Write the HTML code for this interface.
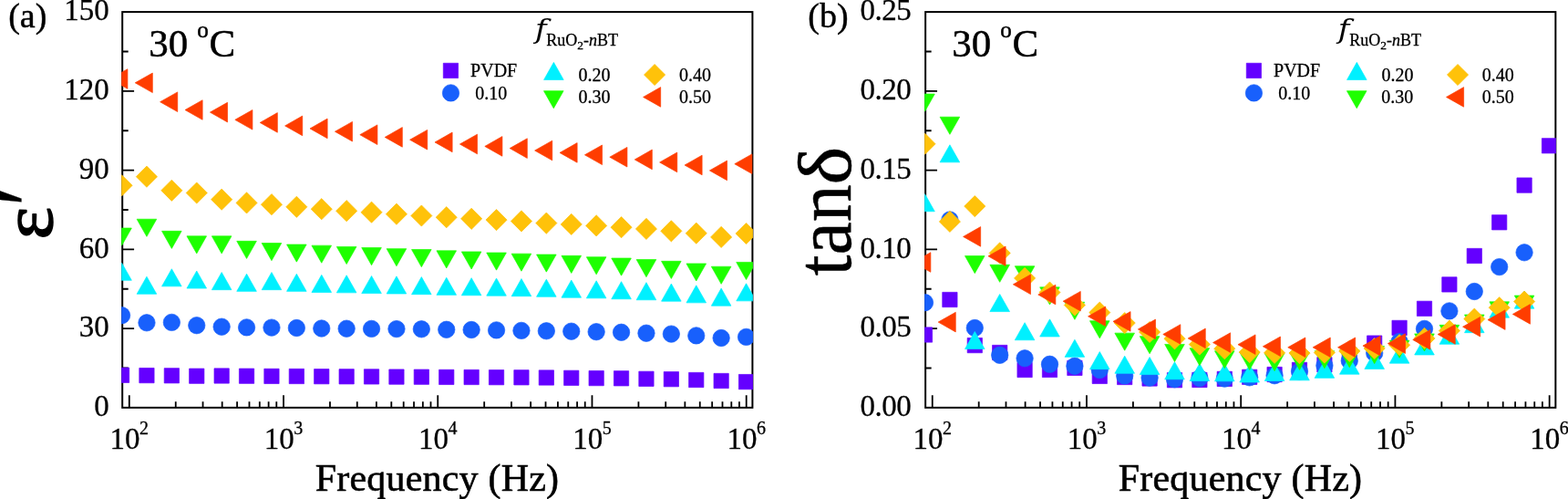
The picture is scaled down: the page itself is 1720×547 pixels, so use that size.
<!DOCTYPE html>
<html lang="en"><head><meta charset="utf-8"><title>Dielectric properties of RuO2-nBT/PVDF composites</title>
<style>html,body{margin:0;padding:0;background:#fff}body{width:1720px;height:547px;overflow:hidden}svg{display:block}text{font-family:'Liberation Serif', 'DejaVu Serif', serif;fill:#000;stroke:#000;stroke-width:.3px;stroke-linejoin:round}</style>
</head><body>
<svg width="1720" height="547" viewBox="0 0 1720 547">
<rect width="1720" height="547" fill="#fff"/>
<g id="panel-a">
<clipPath id="clipa"><rect x="133.2" y="12.1" width="692.7" height="435.75"/></clipPath>
<rect x="134.2" y="13.1" width="691.2" height="433.75" fill="none" stroke="#000" stroke-width="2"/>
<path d="M134.2 403.48h6.5M134.2 360.1h12.9M134.2 316.73h6.5M134.2 273.35h12.9M134.2 229.98h6.5M134.2 186.6h12.9M134.2 143.23h6.5M134.2 99.85h12.9M134.2 56.48h6.5M141.8 446.85v-13.5M192.74 446.85v-6.5M222.54 446.85v-6.5M243.68 446.85v-6.5M260.08 446.85v-6.5M273.48 446.85v-6.5M284.81 446.85v-6.5M294.63 446.85v-6.5M303.28 446.85v-6.5M311.02 446.85v-13.5M361.97 446.85v-6.5M391.77 446.85v-6.5M412.91 446.85v-6.5M429.31 446.85v-6.5M442.71 446.85v-6.5M454.04 446.85v-6.5M463.85 446.85v-6.5M472.51 446.85v-6.5M480.25 446.85v-13.5M531.19 446.85v-6.5M560.99 446.85v-6.5M582.13 446.85v-6.5M598.53 446.85v-6.5M611.93 446.85v-6.5M623.26 446.85v-6.5M633.08 446.85v-6.5M641.73 446.85v-6.5M649.47 446.85v-13.5M700.42 446.85v-6.5M730.22 446.85v-6.5M751.36 446.85v-6.5M767.76 446.85v-6.5M781.16 446.85v-6.5M792.49 446.85v-6.5M802.3 446.85v-6.5M810.96 446.85v-6.5M818.7 446.85v-13.5" fill="none" stroke="#000" stroke-width="1.8"/>
<g clip-path="url(#clipa)" stroke-width="0.7" stroke-linejoin="round">
<g fill="#6400ff" stroke="#6400ff"><rect x="125.4" y="403.15" width="16.3" height="16.3"/><rect x="152.8" y="403.45" width="16.3" height="16.3"/><rect x="180.2" y="403.65" width="16.3" height="16.3"/><rect x="207.6" y="404.05" width="16.3" height="16.3"/><rect x="235" y="403.85" width="16.3" height="16.3"/><rect x="262.4" y="404.05" width="16.3" height="16.3"/><rect x="289.8" y="404.25" width="16.3" height="16.3"/><rect x="317.2" y="404.35" width="16.3" height="16.3"/><rect x="344.6" y="404.55" width="16.3" height="16.3"/><rect x="372" y="404.65" width="16.3" height="16.3"/><rect x="399.4" y="404.75" width="16.3" height="16.3"/><rect x="426.8" y="404.95" width="16.3" height="16.3"/><rect x="454.2" y="405.05" width="16.3" height="16.3"/><rect x="481.6" y="405.25" width="16.3" height="16.3"/><rect x="509" y="405.35" width="16.3" height="16.3"/><rect x="536.4" y="405.55" width="16.3" height="16.3"/><rect x="563.8" y="405.65" width="16.3" height="16.3"/><rect x="591.2" y="405.85" width="16.3" height="16.3"/><rect x="618.6" y="406.15" width="16.3" height="16.3"/><rect x="646" y="406.45" width="16.3" height="16.3"/><rect x="673.4" y="406.65" width="16.3" height="16.3"/><rect x="700.8" y="407.15" width="16.3" height="16.3"/><rect x="728.2" y="407.55" width="16.3" height="16.3"/><rect x="755.6" y="408.35" width="16.3" height="16.3"/><rect x="783" y="409.35" width="16.3" height="16.3"/><rect x="810.4" y="410.45" width="16.3" height="16.3"/></g>
<g fill="#1860fc" stroke="#1860fc"><circle cx="133.55" cy="345.7" r="9.2"/><circle cx="160.95" cy="353.8" r="9.2"/><circle cx="188.35" cy="353.4" r="9.2"/><circle cx="215.75" cy="356.7" r="9.2"/><circle cx="243.15" cy="358.2" r="9.2"/><circle cx="270.55" cy="358.9" r="9.2"/><circle cx="297.95" cy="359.1" r="9.2"/><circle cx="325.35" cy="359.5" r="9.2"/><circle cx="352.75" cy="360" r="9.2"/><circle cx="380.15" cy="360.2" r="9.2"/><circle cx="407.55" cy="360.4" r="9.2"/><circle cx="434.95" cy="360.6" r="9.2"/><circle cx="462.35" cy="360.8" r="9.2"/><circle cx="489.75" cy="361.3" r="9.2"/><circle cx="517.15" cy="361.5" r="9.2"/><circle cx="544.55" cy="361.9" r="9.2"/><circle cx="571.95" cy="362.4" r="9.2"/><circle cx="599.35" cy="362.8" r="9.2"/><circle cx="626.75" cy="363.2" r="9.2"/><circle cx="654.15" cy="363.7" r="9.2"/><circle cx="681.55" cy="364.3" r="9.2"/><circle cx="708.95" cy="365.2" r="9.2"/><circle cx="736.35" cy="366.1" r="9.2"/><circle cx="763.75" cy="367.9" r="9.2"/><circle cx="791.15" cy="370.5" r="9.2"/><circle cx="818.55" cy="369.4" r="9.2"/></g>
<g fill="#00f0ff" stroke="#00f0ff"><polygon points="133.55,288.17 122.75,307.27 144.35,307.27"/><polygon points="160.95,303.17 150.15,322.27 171.75,322.27"/><polygon points="188.35,294.77 177.55,313.87 199.15,313.87"/><polygon points="215.75,296.97 204.95,316.07 226.55,316.07"/><polygon points="243.15,298.57 232.35,317.67 253.95,317.67"/><polygon points="270.55,300.27 259.75,319.37 281.35,319.37"/><polygon points="297.95,298.57 287.15,317.67 308.75,317.67"/><polygon points="325.35,300.27 314.55,319.37 336.15,319.37"/><polygon points="352.75,301.37 341.95,320.47 363.55,320.47"/><polygon points="380.15,301.77 369.35,320.87 390.95,320.87"/><polygon points="407.55,302.47 396.75,321.57 418.35,321.57"/><polygon points="434.95,302.87 424.15,321.97 445.75,321.97"/><polygon points="462.35,303.57 451.55,322.67 473.15,322.67"/><polygon points="489.75,304.27 478.95,323.37 500.55,323.37"/><polygon points="517.15,304.67 506.35,323.77 527.95,323.77"/><polygon points="544.55,305.07 533.75,324.17 555.35,324.17"/><polygon points="571.95,305.57 561.15,324.67 582.75,324.67"/><polygon points="599.35,306.17 588.55,325.27 610.15,325.27"/><polygon points="626.75,307.07 615.95,326.17 637.55,326.17"/><polygon points="654.15,307.77 643.35,326.87 664.95,326.87"/><polygon points="681.55,308.67 670.75,327.77 692.35,327.77"/><polygon points="708.95,309.67 698.15,328.77 719.75,328.77"/><polygon points="736.35,311.07 725.55,330.17 747.15,330.17"/><polygon points="763.75,312.77 752.95,331.87 774.55,331.87"/><polygon points="791.15,316.07 780.35,335.17 801.95,335.17"/><polygon points="818.55,310.77 807.75,329.87 829.35,329.87"/></g>
<g fill="#1eff00" stroke="#1eff00"><polygon points="133.55,269.13 122.75,250.03 144.35,250.03"/><polygon points="160.95,259.33 150.15,240.23 171.75,240.23"/><polygon points="188.35,272.43 177.55,253.33 199.15,253.33"/><polygon points="215.75,277.93 204.95,258.83 226.55,258.83"/><polygon points="243.15,277.93 232.35,258.83 253.95,258.83"/><polygon points="270.55,283.43 259.75,264.33 281.35,264.33"/><polygon points="297.95,285.63 287.15,266.53 308.75,266.53"/><polygon points="325.35,287.13 314.55,268.03 336.15,268.03"/><polygon points="352.75,288.23 341.95,269.13 363.55,269.13"/><polygon points="380.15,289.53 369.35,270.43 390.95,270.43"/><polygon points="407.55,290.63 396.75,271.53 418.35,271.53"/><polygon points="434.95,291.73 424.15,272.63 445.75,272.63"/><polygon points="462.35,292.63 451.55,273.53 473.15,273.53"/><polygon points="489.75,293.93 478.95,274.83 500.55,274.83"/><polygon points="517.15,295.03 506.35,275.93 527.95,275.93"/><polygon points="544.55,296.13 533.75,277.03 555.35,277.03"/><polygon points="571.95,297.23 561.15,278.13 582.75,278.13"/><polygon points="599.35,298.13 588.55,279.03 610.15,279.03"/><polygon points="626.75,299.43 615.95,280.33 637.55,280.33"/><polygon points="654.15,300.83 643.35,281.73 664.95,281.73"/><polygon points="681.55,302.13 670.75,283.03 692.35,283.03"/><polygon points="708.95,303.63 698.15,284.53 719.75,284.53"/><polygon points="736.35,305.43 725.55,286.33 747.15,286.33"/><polygon points="763.75,308.03 752.95,288.93 774.55,288.93"/><polygon points="791.15,311.33 780.35,292.23 801.95,292.23"/><polygon points="818.55,306.53 807.75,287.43 829.35,287.43"/></g>
<g fill="#ffc20a" stroke="#ffc20a"><polygon points="133.55,191.7 145.15,203.3 133.55,214.9 121.95,203.3"/><polygon points="160.95,182.1 172.55,193.7 160.95,205.3 149.35,193.7"/><polygon points="188.35,197.2 199.95,208.8 188.35,220.4 176.75,208.8"/><polygon points="215.75,199.9 227.35,211.5 215.75,223.1 204.15,211.5"/><polygon points="243.15,207.1 254.75,218.7 243.15,230.3 231.55,218.7"/><polygon points="270.55,210.8 282.15,222.4 270.55,234 258.95,222.4"/><polygon points="297.95,212.6 309.55,224.2 297.95,235.8 286.35,224.2"/><polygon points="325.35,215.2 336.95,226.8 325.35,238.4 313.75,226.8"/><polygon points="352.75,217.6 364.35,229.2 352.75,240.8 341.15,229.2"/><polygon points="380.15,219.6 391.75,231.2 380.15,242.8 368.55,231.2"/><polygon points="407.55,221.1 419.15,232.7 407.55,244.3 395.95,232.7"/><polygon points="434.95,223.1 446.55,234.7 434.95,246.3 423.35,234.7"/><polygon points="462.35,224.9 473.95,236.5 462.35,248.1 450.75,236.5"/><polygon points="489.75,226.6 501.35,238.2 489.75,249.8 478.15,238.2"/><polygon points="517.15,228.2 528.75,239.8 517.15,251.4 505.55,239.8"/><polygon points="544.55,229.5 556.15,241.1 544.55,252.7 532.95,241.1"/><polygon points="571.95,230.8 583.55,242.4 571.95,254 560.35,242.4"/><polygon points="599.35,233 610.95,244.6 599.35,256.2 587.75,244.6"/><polygon points="626.75,234.3 638.35,245.9 626.75,257.5 615.15,245.9"/><polygon points="654.15,235.8 665.75,247.4 654.15,259 642.55,247.4"/><polygon points="681.55,237.6 693.15,249.2 681.55,260.8 669.95,249.2"/><polygon points="708.95,239.3 720.55,250.9 708.95,262.5 697.35,250.9"/><polygon points="736.35,241.7 747.95,253.3 736.35,264.9 724.75,253.3"/><polygon points="763.75,244.1 775.35,255.7 763.75,267.3 752.15,255.7"/><polygon points="791.15,248.3 802.75,259.9 791.15,271.5 779.55,259.9"/><polygon points="818.55,244.4 830.15,256 818.55,267.6 806.95,256"/></g>
<g fill="#ff3d00" stroke="#ff3d00"><polygon points="120.82,86.5 139.92,75.7 139.92,97.3"/><polygon points="148.22,90.8 167.32,80 167.32,101.6"/><polygon points="175.62,111.7 194.72,100.9 194.72,122.5"/><polygon points="203.02,120.5 222.12,109.7 222.12,131.3"/><polygon points="230.42,123.1 249.52,112.3 249.52,133.9"/><polygon points="257.82,131.3 276.92,120.5 276.92,142.1"/><polygon points="285.22,134.4 304.32,123.6 304.32,145.2"/><polygon points="312.62,137.9 331.72,127.1 331.72,148.7"/><polygon points="340.02,140.9 359.12,130.1 359.12,151.7"/><polygon points="367.42,144.2 386.52,133.4 386.52,155"/><polygon points="394.82,147.7 413.92,136.9 413.92,158.5"/><polygon points="422.22,150.4 441.32,139.6 441.32,161.2"/><polygon points="449.62,153.2 468.72,142.4 468.72,164"/><polygon points="477.02,155.9 496.12,145.1 496.12,166.7"/><polygon points="504.42,158 523.52,147.2 523.52,168.8"/><polygon points="531.82,160.4 550.92,149.6 550.92,171.2"/><polygon points="559.22,162.6 578.32,151.8 578.32,173.4"/><polygon points="586.62,165 605.72,154.2 605.72,175.8"/><polygon points="614.02,167.4 633.12,156.6 633.12,178.2"/><polygon points="641.42,169.8 660.52,159 660.52,180.6"/><polygon points="668.82,172.2 687.92,161.4 687.92,183"/><polygon points="696.22,174.9 715.32,164.1 715.32,185.7"/><polygon points="723.62,177.9 742.72,167.1 742.72,188.7"/><polygon points="751.02,181 770.12,170.2 770.12,191.8"/><polygon points="778.42,186.9 797.52,176.1 797.52,197.7"/><polygon points="805.82,179.7 824.92,168.9 824.92,190.5"/></g>
</g>
<g font-size="33" text-anchor="end">
<text x="119.8" y="456.05">0</text>
<text x="119.8" y="369.3">30</text>
<text x="119.8" y="282.55">60</text>
<text x="119.8" y="195.8">90</text>
<text x="119.8" y="109.05">120</text>
<text x="119.8" y="22.3">150</text>
</g>
<g font-size="33">
<text x="120.5" y="492.1">10<tspan font-size="20" dx="-0.5" dy="-15.8">2</tspan></text>
<text x="289.72" y="492.1">10<tspan font-size="20" dx="-0.5" dy="-15.8">3</tspan></text>
<text x="458.95" y="492.1">10<tspan font-size="20" dx="-0.5" dy="-15.8">4</tspan></text>
<text x="628.17" y="492.1">10<tspan font-size="20" dx="-0.5" dy="-15.8">5</tspan></text>
<text x="797.4" y="492.1">10<tspan font-size="20" dx="-0.5" dy="-15.8">6</tspan></text>
</g>
<text x="479.5" y="538" font-size="42" letter-spacing="0.2" text-anchor="middle" style="stroke-width:.6px">Frequency (Hz)</text>
<text x="9.2" y="29.6" font-size="38" style="stroke-width:.45px">(a)</text>
<text x="163.2" y="61.5" font-size="43" style="stroke-width:.5px">30 <tspan font-size="25" dx="-0.7" dy="-20.9">o</tspan><tspan dx="0.7" dy="20.9">C</tspan></text>
<text transform="translate(57 262.6) rotate(-90) scale(1.09 1)" font-size="78" style="stroke-width:1.5px">ε</text>
<text transform="translate(65 226.2) rotate(-90)" font-size="100">′</text>
<g>
<text transform="translate(586.9 42.2) scale(1.12 1)" font-size="30.6" font-style="italic" style="stroke-width:0;font-family:'DejaVu Serif','Liberation Serif',serif">f</text>
<text x="599.2" y="49.7" font-size="18">RuO<tspan font-size="13.5" dy="3.9">2</tspan><tspan dy="-3.9">-</tspan><tspan font-style="italic">n</tspan>BT</text>
<g fill="#6400ff" stroke="#6400ff" stroke-width="0.7" stroke-linejoin="round"><rect x="486.3" y="69.25" width="16.3" height="16.3"/></g>
<g fill="#1860fc" stroke="#1860fc" stroke-width="0.7" stroke-linejoin="round"><circle cx="494.5" cy="101.9" r="9.2"/></g>
<g fill="#00f0ff" stroke="#00f0ff" stroke-width="0.7" stroke-linejoin="round"><polygon points="607.4,68.37 596.6,87.47 618.2,87.47"/></g>
<g fill="#1eff00" stroke="#1eff00" stroke-width="0.7" stroke-linejoin="round"><polygon points="607.3,118.73 596.5,99.63 618.1,99.63"/></g>
<g fill="#ffc20a" stroke="#ffc20a" stroke-width="0.7" stroke-linejoin="round"><polygon points="718.1,70.4 729.7,82 718.1,93.6 706.5,82"/></g>
<g fill="#ff3d00" stroke="#ff3d00" stroke-width="0.7" stroke-linejoin="round"><polygon points="705.57,106.4 724.67,95.6 724.67,117.2"/></g>
<g font-size="20">
<text x="516.1" y="84.4">PVDF</text>
<text x="521.2" y="109.3">0.10</text>
<text x="634.6" y="88.6">0.20</text>
<text x="634.4" y="113.0">0.30</text>
<text x="744.9" y="88.9">0.40</text>
<text x="744.9" y="113.4">0.50</text>
</g></g>
</g>
<g id="panel-b">
<clipPath id="clipb"><rect x="1014.15" y="12.1" width="692.7" height="435.75"/></clipPath>
<rect x="1015.15" y="13.1" width="691.2" height="433.75" fill="none" stroke="#000" stroke-width="2"/>
<path d="M1015.15 403.48h6.5M1015.15 360.1h12.9M1015.15 316.73h6.5M1015.15 273.35h12.9M1015.15 229.98h6.5M1015.15 186.6h12.9M1015.15 143.23h6.5M1015.15 99.85h12.9M1015.15 56.48h6.5M1022.75 446.85v-13.5M1073.69 446.85v-6.5M1103.49 446.85v-6.5M1124.63 446.85v-6.5M1141.03 446.85v-6.5M1154.43 446.85v-6.5M1165.76 446.85v-6.5M1175.58 446.85v-6.5M1184.23 446.85v-6.5M1191.97 446.85v-13.5M1242.92 446.85v-6.5M1272.72 446.85v-6.5M1293.86 446.85v-6.5M1310.26 446.85v-6.5M1323.66 446.85v-6.5M1334.99 446.85v-6.5M1344.8 446.85v-6.5M1353.46 446.85v-6.5M1361.2 446.85v-13.5M1412.14 446.85v-6.5M1441.94 446.85v-6.5M1463.08 446.85v-6.5M1479.48 446.85v-6.5M1492.88 446.85v-6.5M1504.21 446.85v-6.5M1514.03 446.85v-6.5M1522.68 446.85v-6.5M1530.42 446.85v-13.5M1581.37 446.85v-6.5M1611.17 446.85v-6.5M1632.31 446.85v-6.5M1648.71 446.85v-6.5M1662.11 446.85v-6.5M1673.44 446.85v-6.5M1683.25 446.85v-6.5M1691.91 446.85v-6.5M1699.65 446.85v-13.5" fill="none" stroke="#000" stroke-width="1.8"/>
<g clip-path="url(#clipb)" stroke-width="0.7" stroke-linejoin="round">
<g fill="#6400ff" stroke="#6400ff"><rect x="1006.35" y="358.85" width="16.3" height="16.3"/><rect x="1033.75" y="320.35" width="16.3" height="16.3"/><rect x="1061.15" y="370.45" width="16.3" height="16.3"/><rect x="1088.55" y="378.35" width="16.3" height="16.3"/><rect x="1115.95" y="397.35" width="16.3" height="16.3"/><rect x="1143.35" y="397.25" width="16.3" height="16.3"/><rect x="1170.75" y="395.25" width="16.3" height="16.3"/><rect x="1198.15" y="404.25" width="16.3" height="16.3"/><rect x="1225.55" y="405.35" width="16.3" height="16.3"/><rect x="1252.95" y="406.85" width="16.3" height="16.3"/><rect x="1280.35" y="408.55" width="16.3" height="16.3"/><rect x="1307.75" y="408.35" width="16.3" height="16.3"/><rect x="1335.15" y="407.25" width="16.3" height="16.3"/><rect x="1362.55" y="405.15" width="16.3" height="16.3"/><rect x="1389.95" y="402.35" width="16.3" height="16.3"/><rect x="1417.35" y="397.25" width="16.3" height="16.3"/><rect x="1444.75" y="391.65" width="16.3" height="16.3"/><rect x="1472.15" y="381.15" width="16.3" height="16.3"/><rect x="1499.55" y="367.95" width="16.3" height="16.3"/><rect x="1526.95" y="351.25" width="16.3" height="16.3"/><rect x="1554.35" y="330.15" width="16.3" height="16.3"/><rect x="1581.75" y="303.75" width="16.3" height="16.3"/><rect x="1609.15" y="272.35" width="16.3" height="16.3"/><rect x="1636.55" y="235.65" width="16.3" height="16.3"/><rect x="1663.95" y="194.95" width="16.3" height="16.3"/><rect x="1691.35" y="151.65" width="16.3" height="16.3"/></g>
<g fill="#1860fc" stroke="#1860fc"><circle cx="1014.5" cy="331.7" r="9.2"/><circle cx="1041.9" cy="241" r="9.2"/><circle cx="1069.3" cy="359.5" r="9.2"/><circle cx="1096.7" cy="389.3" r="9.2"/><circle cx="1124.1" cy="392.8" r="9.2"/><circle cx="1151.5" cy="399.3" r="9.2"/><circle cx="1178.9" cy="401.3" r="9.2"/><circle cx="1206.3" cy="405.6" r="9.2"/><circle cx="1233.7" cy="411.9" r="9.2"/><circle cx="1261.1" cy="414" r="9.2"/><circle cx="1288.5" cy="415.7" r="9.2"/><circle cx="1315.9" cy="414.6" r="9.2"/><circle cx="1343.3" cy="415" r="9.2"/><circle cx="1370.7" cy="413.8" r="9.2"/><circle cx="1398.1" cy="411.7" r="9.2"/><circle cx="1425.5" cy="407" r="9.2"/><circle cx="1452.9" cy="400.7" r="9.2"/><circle cx="1480.3" cy="395.5" r="9.2"/><circle cx="1507.7" cy="387.1" r="9.2"/><circle cx="1535.1" cy="374.5" r="9.2"/><circle cx="1562.5" cy="360.4" r="9.2"/><circle cx="1589.9" cy="340.9" r="9.2"/><circle cx="1617.3" cy="319.5" r="9.2"/><circle cx="1644.7" cy="292.6" r="9.2"/><circle cx="1672.1" cy="276.8" r="9.2"/></g>
<g fill="#00f0ff" stroke="#00f0ff"><polygon points="1014.5,212.67 1003.7,231.77 1025.3,231.77"/><polygon points="1041.9,158.77 1031.1,177.87 1052.7,177.87"/><polygon points="1069.3,363.47 1058.5,382.57 1080.1,382.57"/><polygon points="1096.7,322.47 1085.9,341.57 1107.5,341.57"/><polygon points="1124.1,353.67 1113.3,372.77 1134.9,372.77"/><polygon points="1151.5,349.87 1140.7,368.97 1162.3,368.97"/><polygon points="1178.9,372.27 1168.1,391.37 1189.7,391.37"/><polygon points="1206.3,385.57 1195.5,404.67 1217.1,404.67"/><polygon points="1233.7,390.17 1222.9,409.27 1244.5,409.27"/><polygon points="1261.1,391.47 1250.3,410.57 1271.9,410.57"/><polygon points="1288.5,396.67 1277.7,415.77 1299.3,415.77"/><polygon points="1315.9,398.47 1305.1,417.57 1326.7,417.57"/><polygon points="1343.3,398.77 1332.5,417.87 1354.1,417.87"/><polygon points="1370.7,399.87 1359.9,418.97 1381.5,418.97"/><polygon points="1398.1,398.37 1387.3,417.47 1408.9,417.47"/><polygon points="1425.5,397.77 1414.7,416.87 1436.3,416.87"/><polygon points="1452.9,395.27 1442.1,414.37 1463.7,414.37"/><polygon points="1480.3,391.07 1469.5,410.17 1491.1,410.17"/><polygon points="1507.7,385.37 1496.9,404.47 1518.5,404.47"/><polygon points="1535.1,379.07 1524.3,398.17 1545.9,398.17"/><polygon points="1562.5,369.87 1551.7,388.97 1573.3,388.97"/><polygon points="1589.9,358.17 1579.1,377.27 1600.7,377.27"/><polygon points="1617.3,345.57 1606.5,364.67 1628.1,364.67"/><polygon points="1644.7,329.07 1633.9,348.17 1655.5,348.17"/><polygon points="1672.1,319.07 1661.3,338.17 1682.9,338.17"/></g>
<g fill="#1eff00" stroke="#1eff00"><polygon points="1014.5,122.13 1003.7,103.03 1025.3,103.03"/><polygon points="1041.9,147.33 1031.1,128.23 1052.7,128.23"/><polygon points="1069.3,299.63 1058.5,280.53 1080.1,280.53"/><polygon points="1096.7,309.33 1085.9,290.23 1107.5,290.23"/><polygon points="1124.1,310.83 1113.3,291.73 1134.9,291.73"/><polygon points="1151.5,333.93 1140.7,314.83 1162.3,314.83"/><polygon points="1178.9,350.33 1168.1,331.23 1189.7,331.23"/><polygon points="1206.3,370.83 1195.5,351.73 1217.1,351.73"/><polygon points="1233.7,384.23 1222.9,365.13 1244.5,365.13"/><polygon points="1261.1,387.73 1250.3,368.63 1271.9,368.63"/><polygon points="1288.5,396.53 1277.7,377.43 1299.3,377.43"/><polygon points="1315.9,400.73 1305.1,381.63 1326.7,381.63"/><polygon points="1343.3,403.83 1332.5,384.73 1354.1,384.73"/><polygon points="1370.7,405.43 1359.9,386.33 1381.5,386.33"/><polygon points="1398.1,406.63 1387.3,387.53 1408.9,387.53"/><polygon points="1425.5,405.43 1414.7,386.33 1436.3,386.33"/><polygon points="1452.9,403.83 1442.1,384.73 1463.7,384.73"/><polygon points="1480.3,402.83 1469.5,383.73 1491.1,383.73"/><polygon points="1507.7,398.63 1496.9,379.53 1518.5,379.53"/><polygon points="1535.1,392.33 1524.3,373.23 1545.9,373.23"/><polygon points="1562.5,385.03 1551.7,365.93 1573.3,365.93"/><polygon points="1589.9,375.43 1579.1,356.33 1600.7,356.33"/><polygon points="1617.3,364.13 1606.5,345.03 1628.1,345.03"/><polygon points="1644.7,349.93 1633.9,330.83 1655.5,330.83"/><polygon points="1672.1,343.13 1661.3,324.03 1682.9,324.03"/></g>
<g fill="#ffc20a" stroke="#ffc20a"><polygon points="1014.5,146.1 1026.1,157.7 1014.5,169.3 1002.9,157.7"/><polygon points="1041.9,231.3 1053.5,242.9 1041.9,254.5 1030.3,242.9"/><polygon points="1069.3,214.5 1080.9,226.1 1069.3,237.7 1057.7,226.1"/><polygon points="1096.7,265.8 1108.3,277.4 1096.7,289 1085.1,277.4"/><polygon points="1124.1,293.3 1135.7,304.9 1124.1,316.5 1112.5,304.9"/><polygon points="1151.5,308.9 1163.1,320.5 1151.5,332.1 1139.9,320.5"/><polygon points="1178.9,322.9 1190.5,334.5 1178.9,346.1 1167.3,334.5"/><polygon points="1206.3,331 1217.9,342.6 1206.3,354.2 1194.7,342.6"/><polygon points="1233.7,342.5 1245.3,354.1 1233.7,365.7 1222.1,354.1"/><polygon points="1261.1,352.4 1272.7,364 1261.1,375.6 1249.5,364"/><polygon points="1288.5,359.7 1300.1,371.3 1288.5,382.9 1276.9,371.3"/><polygon points="1315.9,366 1327.5,377.6 1315.9,389.2 1304.3,377.6"/><polygon points="1343.3,370.6 1354.9,382.2 1343.3,393.8 1331.7,382.2"/><polygon points="1370.7,374.5 1382.3,386.1 1370.7,397.7 1359.1,386.1"/><polygon points="1398.1,375.2 1409.7,386.8 1398.1,398.4 1386.5,386.8"/><polygon points="1425.5,375.5 1437.1,387.1 1425.5,398.7 1413.9,387.1"/><polygon points="1452.9,375 1464.5,386.6 1452.9,398.2 1441.3,386.6"/><polygon points="1480.3,373.3 1491.9,384.9 1480.3,396.5 1468.7,384.9"/><polygon points="1507.7,370.4 1519.3,382 1507.7,393.6 1496.1,382"/><polygon points="1535.1,366.6 1546.7,378.2 1535.1,389.8 1523.5,378.2"/><polygon points="1562.5,359.3 1574.1,370.9 1562.5,382.5 1550.9,370.9"/><polygon points="1589.9,351 1601.5,362.6 1589.9,374.2 1578.3,362.6"/><polygon points="1617.3,338 1628.9,349.6 1617.3,361.2 1605.7,349.6"/><polygon points="1644.7,325.6 1656.3,337.2 1644.7,348.8 1633.1,337.2"/><polygon points="1672.1,319 1683.7,330.6 1672.1,342.2 1660.5,330.6"/></g>
<g fill="#ff3d00" stroke="#ff3d00"><polygon points="1001.77,287.5 1020.87,276.7 1020.87,298.3"/><polygon points="1029.17,353.1 1048.27,342.3 1048.27,363.9"/><polygon points="1056.57,259.4 1075.67,248.6 1075.67,270.2"/><polygon points="1083.97,280.8 1103.07,270 1103.07,291.6"/><polygon points="1111.37,311.8 1130.47,301 1130.47,322.6"/><polygon points="1138.77,323 1157.87,312.2 1157.87,333.8"/><polygon points="1166.17,330.2 1185.27,319.4 1185.27,341"/><polygon points="1193.57,346.8 1212.67,336 1212.67,357.6"/><polygon points="1220.97,352.4 1240.07,341.6 1240.07,363.2"/><polygon points="1248.37,360.9 1267.47,350.1 1267.47,371.7"/><polygon points="1275.77,366.5 1294.87,355.7 1294.87,377.3"/><polygon points="1303.17,370.9 1322.27,360.1 1322.27,381.7"/><polygon points="1330.57,375.6 1349.67,364.8 1349.67,386.4"/><polygon points="1357.97,377.7 1377.07,366.9 1377.07,388.5"/><polygon points="1385.37,379.8 1404.47,369 1404.47,390.6"/><polygon points="1412.77,380.8 1431.87,370 1431.87,391.6"/><polygon points="1440.17,380.8 1459.27,370 1459.27,391.6"/><polygon points="1467.57,380.8 1486.67,370 1486.67,391.6"/><polygon points="1494.97,379.1 1514.07,368.3 1514.07,389.9"/><polygon points="1522.37,376.6 1541.47,365.8 1541.47,387.4"/><polygon points="1549.77,372.4 1568.87,361.6 1568.87,383.2"/><polygon points="1577.17,366.5 1596.27,355.7 1596.27,377.3"/><polygon points="1604.57,358.2 1623.67,347.4 1623.67,369"/><polygon points="1631.97,350.6 1651.07,339.8 1651.07,361.4"/><polygon points="1659.37,344.4 1678.47,333.6 1678.47,355.2"/></g>
</g>
<g font-size="33" text-anchor="end" letter-spacing="-0.5">
<text x="999.25" y="456.05">0.00</text>
<text x="999.25" y="369.3">0.05</text>
<text x="999.25" y="282.55">0.10</text>
<text x="999.25" y="195.8">0.15</text>
<text x="999.25" y="109.05">0.20</text>
<text x="999.25" y="22.3">0.25</text>
</g>
<g font-size="33">
<text x="1001.45" y="492.1">10<tspan font-size="20" dx="-0.5" dy="-15.8">2</tspan></text>
<text x="1170.67" y="492.1">10<tspan font-size="20" dx="-0.5" dy="-15.8">3</tspan></text>
<text x="1339.9" y="492.1">10<tspan font-size="20" dx="-0.5" dy="-15.8">4</tspan></text>
<text x="1509.12" y="492.1">10<tspan font-size="20" dx="-0.5" dy="-15.8">5</tspan></text>
<text x="1678.35" y="492.1">10<tspan font-size="20" dx="-0.5" dy="-15.8">6</tspan></text>
</g>
<text x="1360.45" y="538" font-size="42" letter-spacing="0.2" text-anchor="middle" style="stroke-width:.6px">Frequency (Hz)</text>
<text x="886.25" y="29.6" font-size="38" style="stroke-width:.45px">(b)</text>
<text x="1044.15" y="61.5" font-size="43" style="stroke-width:.5px">30 <tspan font-size="25" dx="-0.7" dy="-20.9">o</tspan><tspan dx="0.7" dy="20.9">C</tspan></text>
<text transform="translate(933.2 302.2) rotate(-90) scale(0.974 1.025)" font-size="84" style="stroke-width:.5px">tan</text>
<text transform="translate(933.1 202.4) rotate(-90) scale(1.07 1)" font-size="83" style="stroke-width:.6px">δ</text>
<g>
<text transform="translate(1467.85 42.2) scale(1.12 1)" font-size="30.6" font-style="italic" style="stroke-width:0;font-family:'DejaVu Serif','Liberation Serif',serif">f</text>
<text x="1480.15" y="49.7" font-size="18">RuO<tspan font-size="13.5" dy="3.9">2</tspan><tspan dy="-3.9">-</tspan><tspan font-style="italic">n</tspan>BT</text>
<g fill="#6400ff" stroke="#6400ff" stroke-width="0.7" stroke-linejoin="round"><rect x="1367.25" y="69.25" width="16.3" height="16.3"/></g>
<g fill="#1860fc" stroke="#1860fc" stroke-width="0.7" stroke-linejoin="round"><circle cx="1375.45" cy="101.9" r="9.2"/></g>
<g fill="#00f0ff" stroke="#00f0ff" stroke-width="0.7" stroke-linejoin="round"><polygon points="1488.35,68.37 1477.55,87.47 1499.15,87.47"/></g>
<g fill="#1eff00" stroke="#1eff00" stroke-width="0.7" stroke-linejoin="round"><polygon points="1488.25,118.73 1477.45,99.63 1499.05,99.63"/></g>
<g fill="#ffc20a" stroke="#ffc20a" stroke-width="0.7" stroke-linejoin="round"><polygon points="1599.05,70.4 1610.65,82 1599.05,93.6 1587.45,82"/></g>
<g fill="#ff3d00" stroke="#ff3d00" stroke-width="0.7" stroke-linejoin="round"><polygon points="1586.52,106.4 1605.62,95.6 1605.62,117.2"/></g>
<g font-size="20">
<text x="1397.05" y="84.4">PVDF</text>
<text x="1402.15" y="109.3">0.10</text>
<text x="1515.55" y="88.6">0.20</text>
<text x="1515.35" y="113.0">0.30</text>
<text x="1625.85" y="88.9">0.40</text>
<text x="1625.85" y="113.4">0.50</text>
</g></g>
</g>
</svg>
</body></html>
